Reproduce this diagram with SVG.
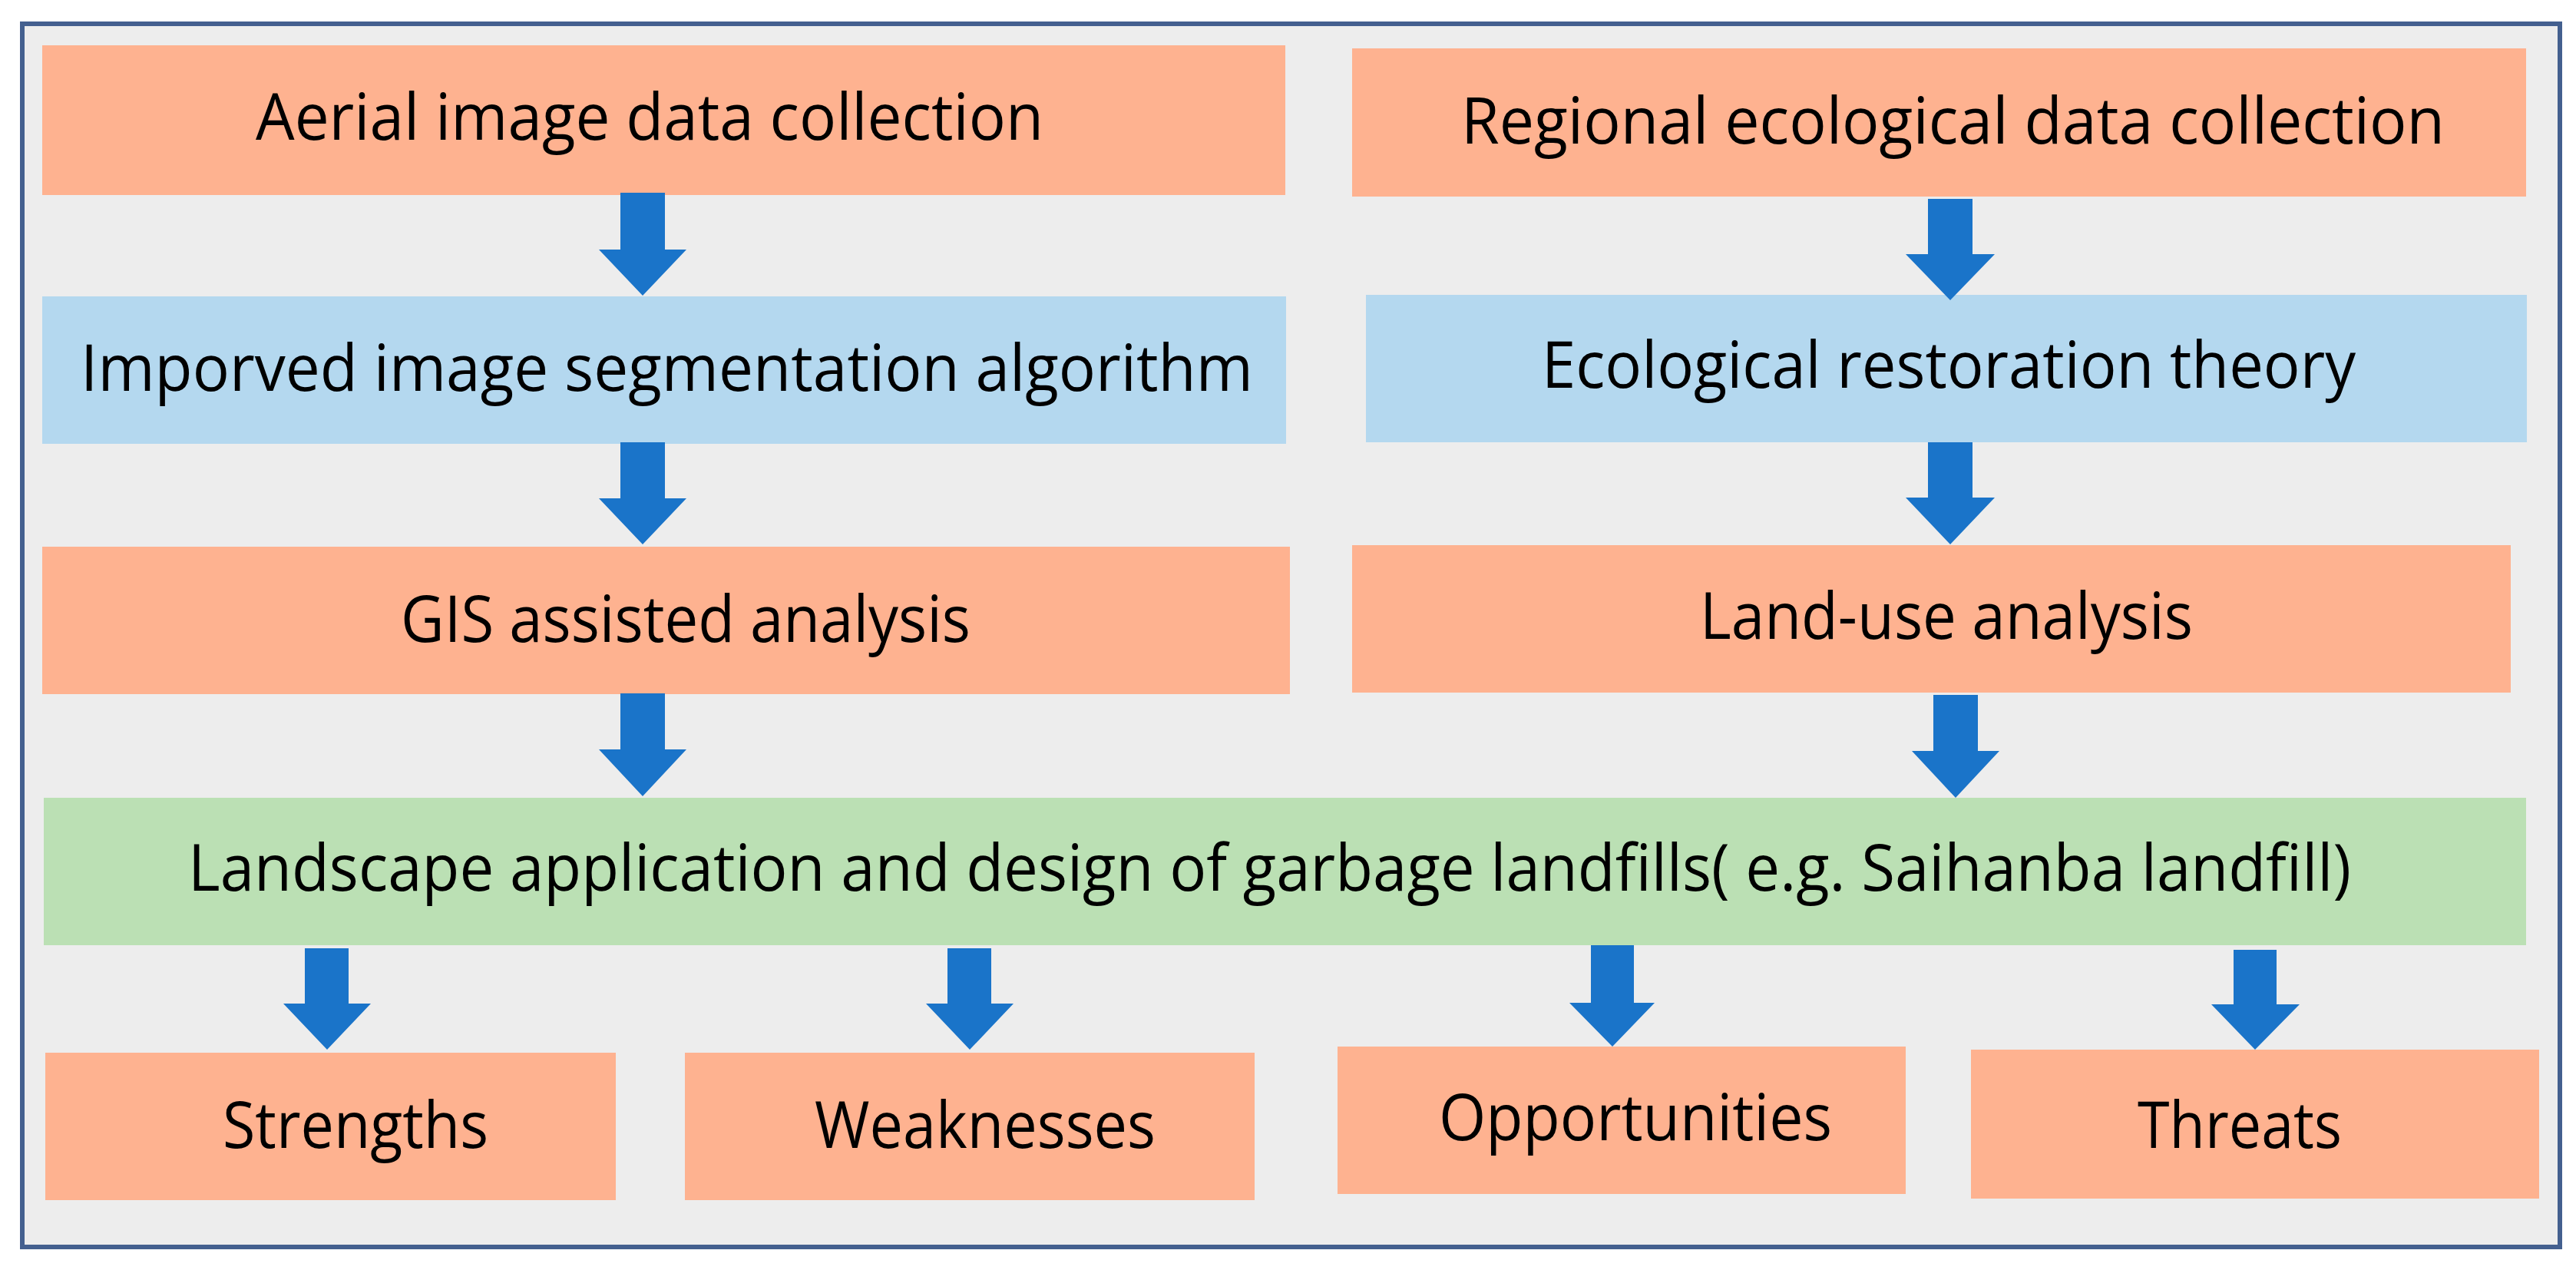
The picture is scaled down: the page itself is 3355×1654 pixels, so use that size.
<svg xmlns="http://www.w3.org/2000/svg" width="3355" height="1654" viewBox="0 0 3355 1654">
<style>
.or{fill:#FEB290}
.bl{fill:#B4D8EF}
.gr{fill:#BBE0B4}
.t{font-family:"Open Sans","Noto Sans","Liberation Sans",sans-serif;font-size:84px;fill:#000}
.ar{fill:#1A74C9}
</style>
<rect x="0" y="0" width="3355" height="1654" fill="#FFFFFF"/>
<rect x="29" y="31" width="3305" height="1593" fill="#EDEDED" stroke="#44608F" stroke-width="6"/>
<g id="n-aerial"><rect class="or" x="55" y="59" width="1619" height="195"/><text class="t" x="333" y="182" textLength="1026" lengthAdjust="spacingAndGlyphs">Aerial image data collection</text></g>
<g id="n-regional"><rect class="or" x="1761" y="63" width="1529" height="193"/><text class="t" x="1903" y="187" textLength="1281" lengthAdjust="spacingAndGlyphs">Regional ecological data collection</text></g>
<g id="n-segment"><rect class="bl" x="55" y="386" width="1620" height="192"/><text class="t" x="105" y="509" textLength="1527" lengthAdjust="spacingAndGlyphs">Imporved image segmentation algorithm</text></g>
<g id="n-theory"><rect class="bl" x="1779" y="384" width="1512" height="192"/><text class="t" x="2008" y="505" textLength="1060" lengthAdjust="spacingAndGlyphs">Ecological restoration theory</text></g>
<g id="n-gis"><rect class="or" x="55" y="712" width="1625" height="192"/><text class="t" x="522" y="836" textLength="742" lengthAdjust="spacingAndGlyphs">GIS assisted analysis</text></g>
<g id="n-landuse"><rect class="or" x="1761" y="710" width="1509" height="192"/><text class="t" x="2214" y="832" textLength="642" lengthAdjust="spacingAndGlyphs">Land-use analysis</text></g>
<g id="n-landscape"><rect class="gr" x="57" y="1039" width="3233" height="192"/><text class="t" x="245" y="1160" textLength="2817" lengthAdjust="spacingAndGlyphs">Landscape application and design of garbage landfills( e.g. Saihanba landfill)</text></g>
<g id="n-strengths"><rect class="or" x="59" y="1371" width="743" height="192"/><text class="t" x="290" y="1495" textLength="346" lengthAdjust="spacingAndGlyphs">Strengths</text></g>
<g id="n-weaknesses"><rect class="or" x="892" y="1371" width="742" height="192"/><text class="t" x="1061" y="1495" textLength="444" lengthAdjust="spacingAndGlyphs">Weaknesses</text></g>
<g id="n-opportunities"><rect class="or" x="1742" y="1363" width="740" height="192"/><text class="t" x="1874" y="1485" textLength="512" lengthAdjust="spacingAndGlyphs">Opportunities</text></g>
<g id="n-threats"><rect class="or" x="2567" y="1367" width="740" height="194"/><text class="t" x="2784" y="1495" textLength="266" lengthAdjust="spacingAndGlyphs">Threats</text></g>
<g id="connectors">
<path class="ar" d="M808 251 H866 V325 H894 L837 385 L780 325 H808 Z"/>
<path class="ar" d="M808 576 H866 V649 H894 L837 709 L780 649 H808 Z"/>
<path class="ar" d="M808 903 H866 V976 H894 L837 1037 L780 976 H808 Z"/>
<path class="ar" d="M2511 259 H2569 V331 H2598 L2540 391 L2482 331 H2511 Z"/>
<path class="ar" d="M2511 576 H2569 V648 H2598 L2540 709 L2482 648 H2511 Z"/>
<path class="ar" d="M2518 905 H2576 V978 H2604 L2547 1039 L2490 978 H2518 Z"/>
<path class="ar" d="M397 1235 H454 V1307 H483 L426 1367 L369 1307 H397 Z"/>
<path class="ar" d="M1234 1235 H1291 V1307 H1320 L1263 1367 L1206 1307 H1234 Z"/>
<path class="ar" d="M2072 1231 H2128 V1306 H2155 L2100 1363 L2044 1306 H2072 Z"/>
<path class="ar" d="M2909 1237 H2965 V1308 H2995 L2937 1367 L2880 1308 H2909 Z"/>
</g>
</svg>
